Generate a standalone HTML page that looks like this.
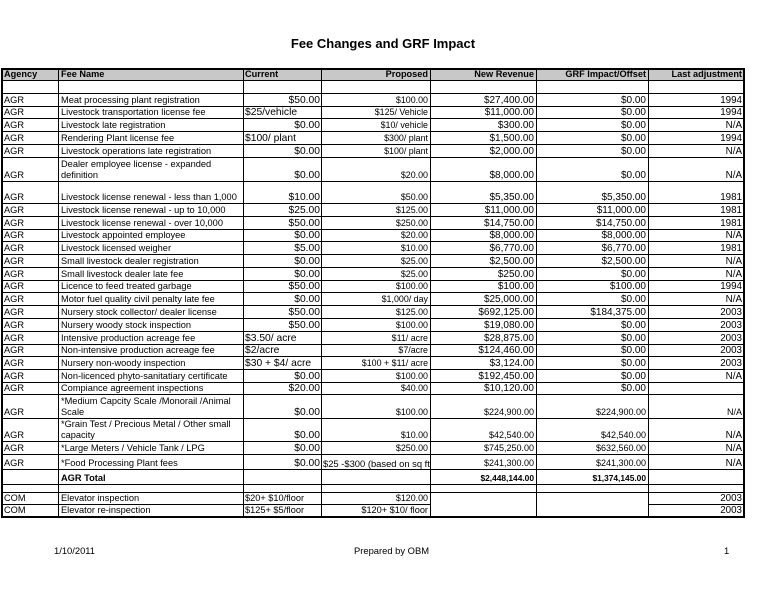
<!DOCTYPE html>
<html>
<head>
<meta charset="utf-8">
<style>
html,body{margin:0;padding:0;background:#fff;}
body{width:768px;height:593px;position:relative;overflow:hidden;font-family:"Liberation Sans",Arial,sans-serif;color:#000;}
.title{position:absolute;left:0;width:766px;top:37px;text-align:center;font-weight:bold;font-size:13px;line-height:13px;white-space:nowrap;}
.hbg{position:absolute;left:3px;top:70px;width:740px;height:10px;background:#c8c8c8;}
.hl{position:absolute;height:1px;background:#000;}
.vl{position:absolute;top:69px;height:448px;width:1px;background:#000;}
.r{position:absolute;left:0;width:768px;}
.r>div{position:absolute;top:0;bottom:0;display:flex;align-items:flex-end;white-space:nowrap;overflow:hidden;line-height:11px;box-sizing:border-box;}
.r>div>span{display:block;}
.a{left:3px;width:55px;padding-left:1px;font-size:9.25px;}
.f{left:59px;width:184px;padding-left:2px;font-size:9.25px;}
.cu{left:244px;width:77px;justify-content:flex-end;padding-right:1px;font-size:10.3px;}
.p{left:322px;width:108px;justify-content:flex-end;padding-right:2px;font-size:8.9px;}
.n{left:431px;width:105px;justify-content:flex-end;padding-right:2px;font-size:10px;}
.g{left:537px;width:111px;justify-content:flex-end;padding-right:2px;font-size:10px;}
.y{left:649px;width:94px;justify-content:flex-end;padding-right:1px;font-size:9.8px;}
.l{justify-content:flex-start;padding-left:1px;padding-right:0;}
.s{font-size:9px;}
.s2{font-size:9.2px;}
.pl{justify-content:flex-start;padding-left:1px;padding-right:0;font-size:9.4px;}
.tb{font-weight:bold;font-size:8.4px;}
.b{font-weight:bold;}
.hd>div{font-weight:bold;font-size:9.2px;}
.ft{position:absolute;top:545px;font-size:9.4px;line-height:11px;white-space:nowrap;}
</style>
</head>
<body>
<div class="title">Fee Changes and GRF Impact</div>

<div class="hbg"></div>

<div class="hl" style="left:1px;width:744px;top:68px;height:2px"></div>
<div class="hl" style="left:1px;width:744px;top:80px"></div>
<div class="hl" style="left:1px;width:744px;top:93px"></div>
<div class="hl" style="left:1px;width:744px;top:106px"></div>
<div class="hl" style="left:1px;width:744px;top:118px"></div>
<div class="hl" style="left:1px;width:744px;top:131px"></div>
<div class="hl" style="left:1px;width:744px;top:144px"></div>
<div class="hl" style="left:1px;width:744px;top:157px"></div>
<div class="hl" style="left:1px;width:744px;top:181px"></div>
<div class="hl" style="left:1px;width:744px;top:203px"></div>
<div class="hl" style="left:1px;width:744px;top:216px"></div>
<div class="hl" style="left:1px;width:744px;top:229px"></div>
<div class="hl" style="left:1px;width:744px;top:241px"></div>
<div class="hl" style="left:1px;width:744px;top:254px"></div>
<div class="hl" style="left:1px;width:744px;top:267px"></div>
<div class="hl" style="left:1px;width:744px;top:280px"></div>
<div class="hl" style="left:1px;width:744px;top:292px"></div>
<div class="hl" style="left:1px;width:744px;top:305px"></div>
<div class="hl" style="left:1px;width:744px;top:318px"></div>
<div class="hl" style="left:1px;width:744px;top:331px"></div>
<div class="hl" style="left:1px;width:744px;top:344px"></div>
<div class="hl" style="left:1px;width:744px;top:356px"></div>
<div class="hl" style="left:1px;width:744px;top:369px"></div>
<div class="hl" style="left:1px;width:744px;top:382px"></div>
<div class="hl" style="left:1px;width:744px;top:394px"></div>
<div class="hl" style="left:1px;width:744px;top:418px"></div>
<div class="hl" style="left:1px;width:744px;top:441px"></div>
<div class="hl" style="left:1px;width:744px;top:454px"></div>
<div class="hl" style="left:1px;width:744px;top:469px"></div>
<div class="hl" style="left:1px;width:744px;top:484px"></div>
<div class="hl" style="left:1px;width:744px;top:492px"></div>
<div class="hl" style="left:1px;width:430px;top:504px"></div>
<div class="hl" style="left:648px;width:97px;top:504px"></div>
<div class="hl" style="left:1px;width:744px;top:516px;height:2px"></div>

<div class="vl" style="left:1px;width:2px"></div>
<div class="vl" style="left:58px"></div>
<div class="vl" style="left:243px"></div>
<div class="vl" style="left:321px"></div>
<div class="vl" style="left:430px"></div>
<div class="vl" style="left:536px"></div>
<div class="vl" style="left:648px"></div>
<div class="vl" style="left:743px;width:2px"></div>

<div class="r hd" style="top:70px;height:10px"><div class="a">Agency</div><div class="f">Fee Name</div><div class="cu l">Current</div><div class="p">Proposed</div><div class="n">New Revenue</div><div class="g">GRF Impact/Offset</div><div class="y">Last adjustment</div></div>

<div class="r" style="top:94px;height:12px"><div class="a">AGR</div><div class="f">Meat processing plant registration</div><div class="cu">$50.00</div><div class="p">$100.00</div><div class="n">$27,400.00</div><div class="g">$0.00</div><div class="y">1994</div></div>
<div class="r" style="top:107px;height:11px"><div class="a">AGR</div><div class="f">Livestock transportation license fee</div><div class="cu l">$25/vehicle</div><div class="p">$125/ Vehicle</div><div class="n">$11,000.00</div><div class="g">$0.00</div><div class="y">1994</div></div>
<div class="r" style="top:119px;height:12px"><div class="a">AGR</div><div class="f">Livestock late registration</div><div class="cu">$0.00</div><div class="p">$10/ vehicle</div><div class="n">$300.00</div><div class="g">$0.00</div><div class="y">N/A</div></div>
<div class="r" style="top:132px;height:12px"><div class="a">AGR</div><div class="f">Rendering Plant license fee</div><div class="cu l">$100/ plant</div><div class="p">$300/ plant</div><div class="n">$1,500.00</div><div class="g">$0.00</div><div class="y">1994</div></div>
<div class="r" style="top:145px;height:12px"><div class="a">AGR</div><div class="f">Livestock operations late registration</div><div class="cu">$0.00</div><div class="p">$100/ plant</div><div class="n">$2,000.00</div><div class="g">$0.00</div><div class="y">N/A</div></div>
<div class="r" style="top:158px;height:23px"><div class="a">AGR</div><div class="f"><span>Dealer employee license - expanded<br>definition</span></div><div class="cu">$0.00</div><div class="p">$20.00</div><div class="n">$8,000.00</div><div class="g">$0.00</div><div class="y">N/A</div></div>
<div class="r" style="top:182px;height:21px"><div class="a">AGR</div><div class="f">Livestock license renewal - less than 1,000</div><div class="cu">$10.00</div><div class="p">$50.00</div><div class="n">$5,350.00</div><div class="g">$5,350.00</div><div class="y">1981</div></div>
<div class="r" style="top:204px;height:12px"><div class="a">AGR</div><div class="f">Livestock license renewal - up to 10,000</div><div class="cu">$25.00</div><div class="p">$125.00</div><div class="n">$11,000.00</div><div class="g">$11,000.00</div><div class="y">1981</div></div>
<div class="r" style="top:217px;height:12px"><div class="a">AGR</div><div class="f">Livestock license renewal - over 10,000</div><div class="cu">$50.00</div><div class="p">$250.00</div><div class="n">$14,750.00</div><div class="g">$14,750.00</div><div class="y">1981</div></div>
<div class="r" style="top:230px;height:11px"><div class="a">AGR</div><div class="f">Livestock appointed employee</div><div class="cu">$0.00</div><div class="p">$20.00</div><div class="n">$8,000.00</div><div class="g">$8,000.00</div><div class="y">N/A</div></div>
<div class="r" style="top:242px;height:12px"><div class="a">AGR</div><div class="f">Livestock licensed weigher</div><div class="cu">$5.00</div><div class="p">$10.00</div><div class="n">$6,770.00</div><div class="g">$6,770.00</div><div class="y">1981</div></div>
<div class="r" style="top:255px;height:12px"><div class="a">AGR</div><div class="f">Small livestock dealer registration</div><div class="cu">$0.00</div><div class="p">$25.00</div><div class="n">$2,500.00</div><div class="g">$2,500.00</div><div class="y">N/A</div></div>
<div class="r" style="top:268px;height:12px"><div class="a">AGR</div><div class="f">Small livestock dealer late fee</div><div class="cu">$0.00</div><div class="p">$25.00</div><div class="n">$250.00</div><div class="g">$0.00</div><div class="y">N/A</div></div>
<div class="r" style="top:281px;height:11px"><div class="a">AGR</div><div class="f">Licence to feed treated garbage</div><div class="cu">$50.00</div><div class="p">$100.00</div><div class="n">$100.00</div><div class="g">$100.00</div><div class="y">1994</div></div>
<div class="r" style="top:293px;height:12px"><div class="a">AGR</div><div class="f">Motor fuel quality civil penalty late fee</div><div class="cu">$0.00</div><div class="p">$1,000/ day</div><div class="n">$25,000.00</div><div class="g">$0.00</div><div class="y">N/A</div></div>
<div class="r" style="top:306px;height:12px"><div class="a">AGR</div><div class="f">Nursery stock collector/ dealer license</div><div class="cu">$50.00</div><div class="p">$125.00</div><div class="n">$692,125.00</div><div class="g">$184,375.00</div><div class="y">2003</div></div>
<div class="r" style="top:319px;height:12px"><div class="a">AGR</div><div class="f">Nursery woody stock inspection</div><div class="cu">$50.00</div><div class="p">$100.00</div><div class="n">$19,080.00</div><div class="g">$0.00</div><div class="y">2003</div></div>
<div class="r" style="top:332px;height:12px"><div class="a">AGR</div><div class="f">Intensive production acreage fee</div><div class="cu l">$3.50/ acre</div><div class="p">$11/ acre</div><div class="n">$28,875.00</div><div class="g">$0.00</div><div class="y">2003</div></div>
<div class="r" style="top:345px;height:11px"><div class="a">AGR</div><div class="f">Non-intensive production acreage fee</div><div class="cu l">$2/acre</div><div class="p">$7/acre</div><div class="n">$124,460.00</div><div class="g">$0.00</div><div class="y">2003</div></div>
<div class="r" style="top:357px;height:12px"><div class="a">AGR</div><div class="f">Nursery non-woody inspection</div><div class="cu l">$30 + $4/ acre</div><div class="p">$100 + $11/ acre</div><div class="n">$3,124.00</div><div class="g">$0.00</div><div class="y">2003</div></div>
<div class="r" style="top:370px;height:12px"><div class="a">AGR</div><div class="f">Non-licenced phyto-sanitatiary certificate</div><div class="cu">$0.00</div><div class="p">$100.00</div><div class="n">$192,450.00</div><div class="g">$0.00</div><div class="y">N/A</div></div>
<div class="r" style="top:383px;height:11px"><div class="a">AGR</div><div class="f">Compiance agreement inspections</div><div class="cu">$20.00</div><div class="p">$40.00</div><div class="n">$10,120.00</div><div class="g">$0.00</div><div class="y"></div></div>
<div class="r" style="top:395px;height:23px"><div class="a">AGR</div><div class="f"><span>*Medium Capcity Scale /Monorail /Animal<br>Scale</span></div><div class="cu">$0.00</div><div class="p">$100.00</div><div class="n s">$224,900.00</div><div class="g s">$224,900.00</div><div class="y s">N/A</div></div>
<div class="r" style="top:419px;height:22px"><div class="a">AGR</div><div class="f"><span>*Grain Test / Precious Metal / Other small<br>capacity</span></div><div class="cu">$0.00</div><div class="p">$10.00</div><div class="n s">$42,540.00</div><div class="g s">$42,540.00</div><div class="y">N/A</div></div>
<div class="r" style="top:442px;height:12px"><div class="a">AGR</div><div class="f">*Large Meters / Vehicle Tank / LPG</div><div class="cu">$0.00</div><div class="p">$250.00</div><div class="n s">$745,250.00</div><div class="g s">$632,560.00</div><div class="y">N/A</div></div>
<div class="r" style="top:455px;height:14px"><div class="a">AGR</div><div class="f">*Food Processing Plant fees</div><div class="cu">$0.00</div><div class="p pl">$25 -$300 (based on sq ft)</div><div class="n s">$241,300.00</div><div class="g s">$241,300.00</div><div class="y">N/A</div></div>
<div class="r" style="top:470px;height:14px"><div class="a"></div><div class="f b">AGR Total</div><div class="n tb">$2,448,144.00</div><div class="g tb">$1,374,145.00</div></div>
<div class="r" style="top:493px;height:11px"><div class="a">COM</div><div class="f">Elevator inspection</div><div class="cu l s2">$20+ $10/floor</div><div class="p">$120.00</div><div class="y">2003</div></div>
<div class="r" style="top:505px;height:11px"><div class="a">COM</div><div class="f">Elevator re-inspection</div><div class="cu l s2">$125+ $5/floor</div><div class="p s2">$120+ $10/ floor</div><div class="y">2003</div></div>

<div class="ft" style="left:54px">1/10/2011</div>
<div class="ft" style="left:354px">Prepared by OBM</div>
<div class="ft" style="left:724px">1</div>
</body>
</html>
